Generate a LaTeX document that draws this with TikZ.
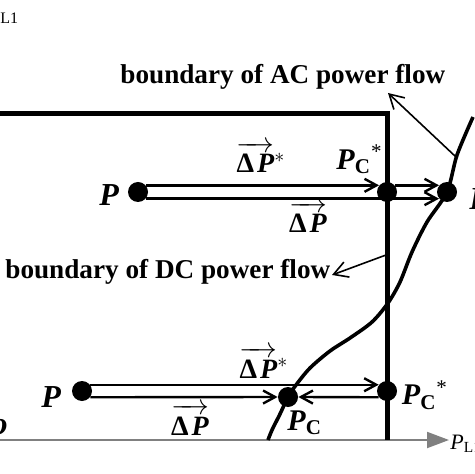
\documentclass[tikz,border=0pt]{standalone}
\usepackage{amsmath}
\usepackage{fontspec}
\setmainfont{Liberation Serif}
\usetikzlibrary{arrows.meta,positioning}
\definecolor{axisgray}{HTML}{808080}
\newcommand{\Pb}{\textbf{\textit{P}}}
\newcommand{\Pc}{\Pb\textsubscript{\textbf{C}}}
\newcommand{\dP}{\ensuremath{\overrightarrow{\text{\rule{0pt}{0.74em}\bfseries Δ\kern0.1em\textit{P}}}}}
\newcommand{\dPs}{\ensuremath{\overrightarrow{\text{\rule{0pt}{0.74em}\bfseries Δ\kern0.1em\textit{P}}}^{*}}}

\begin{document}
\begin{tikzpicture}[x=0.5pt,y=-0.5pt,
dot/.style={circle,fill=black,inner sep=0pt,minimum size=10pt},
arr/.style={-{Straight Barb[length=6pt,width=6.5pt]},line width=1.2pt},
ptr/.style={-{Straight Barb[length=7pt,width=8pt]},line width=0.8pt},
wall/.style={line width=2.5pt},
bnd/.style={line width=1.8pt},
axis/.style={-{Triangle[length=11pt,width=8pt]},line width=1pt,draw=axisgray,fill=axisgray},
plab/.style={inner sep=0pt,font=\fontsize{16}{19}\selectfont},
clab/.style={inner sep=0pt,font=\fontsize{15}{18}\selectfont},
dlab/.style={inner sep=0pt,font=\fontsize{14}{17}\selectfont},
note/.style={inner sep=0pt,font=\fontsize{13.6}{16}\selectfont\bfseries},
axlab/.style={inner sep=0pt,font=\fontsize{11}{13}\selectfont}]
\useasboundingbox (0,0) rectangle (474,474);
% axis and DC limit
\coordinate (wallL) at (0,114);
\coordinate (corner) at (387,114);
\coordinate (wallB) at (387,440);
\coordinate (origin) at (0,440);
\coordinate (axEnd) at (449,440);
\draw[axis] (origin) -- (axEnd);
\draw[wall] (wallL) -- (corner) -- (wallB);
% AC limit
\draw[bnd] plot[smooth] coordinates {(473,117) (457,155) (447,192) (427,222)
  (412,252) (400,282) (388,303) (372,322) (350,338) (330,351) (310,368)
  (296,385) (288,397) (280,414) (272,430) (268,440)};
% operating points
\node[dot] (P1) at (138,192) {};
\node[dot] (PcS1) at (387,192) {};
\node[dot] (AC1) at (447,192) {};
\node[dot] (P2) at (82,391) {};
\node[dot] (PcS2) at (387,391) {};
\node[dot] (Pc2) at (288,397) {};
\draw[arr] (P1.40) -- (PcS1.140);
\draw[arr] (PcS1.40) -- (AC1.140);
\draw[arr] (P1.-40) -- (AC1.-140);
\draw[arr] (P2.37) -- (PcS2.143);
\draw[arr] (P2.-37) -- (Pc2.west);
\draw[arr] (PcS2.-143) -- (Pc2.east);
% labels
\node[plab,left=4pt of P1,yshift=-1.5pt] (P1lab) {\Pb};
\node[plab,left=5pt of P2,yshift=-3pt] (P2lab) {\Pb};
\node[clab,anchor=south east] (PcS1lab) at (383,174) {\Pc\textsuperscript{*}};
\node[clab,right=2pt of PcS2,yshift=-2pt] (PcS2lab) {\Pc\textsuperscript{*}};
\node[clab,anchor=north west] (Pc2lab) at (287,410) {\Pc};
\node[dlab,anchor=base] (d1a) at (261,173) {\dPs};
\node[dlab,anchor=base] (d1b) at (308,233) {\dP};
\node[dlab,anchor=base] (d2a) at (264,378) {\dPs};
\node[dlab,anchor=base] (d2b) at (190,435) {\dP};
\node[plab,anchor=west] (Pr) at (469,199) {\Pb};
\node[plab,anchor=east] (oLab) at (8,427) {\textbf{\textit{o}}};
\node[axlab,anchor=west] (axLab) at (450,444) {\textit{P}\textsubscript{L1}};
\node[axlab,anchor=west,font=\fontsize{8}{10}\selectfont] (yLab) at (0,18) {L1};
\node[note,anchor=base west] (acLab) at (120,84) {boundary of AC power flow};
\node[note,anchor=base west] (dcLab) at (5,279) {boundary of DC power flow};
\coordinate (acPt) at (456,157);
\coordinate (acTip) at (388,93);
\coordinate (dcPt) at (386,255);
\coordinate (dcTip) at (332,275);
\draw[ptr] (acPt) -- (acTip);
\draw[ptr] (dcPt) -- (dcTip);
\end{tikzpicture}
\end{document}
